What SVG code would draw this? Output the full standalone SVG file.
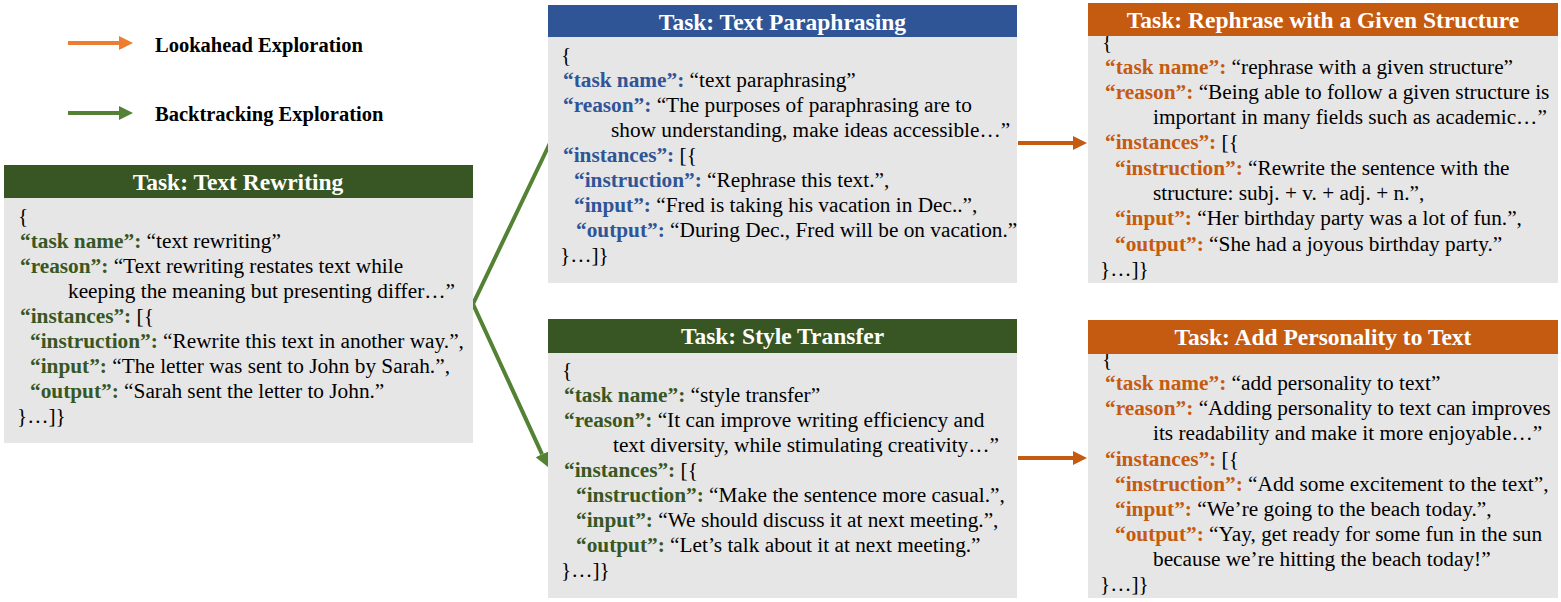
<svg xmlns="http://www.w3.org/2000/svg" width="1561" height="602" viewBox="0 0 1561 602">
<style>
.bg{fill:#ffffff}
.body{fill:#e7e6e6}
.hg{fill:#375623}
.hb{fill:#2f5597}
.ho{fill:#c55a11}
.ht{font-family:"Liberation Serif",serif;font-weight:bold;font-size:23.5px;fill:#ffffff;text-anchor:middle}
.t{font-family:"Liberation Serif",serif;font-size:21.3px;fill:#000000}
.kg{font-weight:bold;fill:#385723}
.kb{font-weight:bold;fill:#2f5597}
.ko{font-weight:bold;fill:#c55a11}
.lg{font-family:"Liberation Serif",serif;font-weight:bold;font-size:20.5px;fill:#000000}
</style>
<defs>
<marker id="ahO" markerUnits="userSpaceOnUse" markerWidth="14" markerHeight="14" refX="0" refY="7" orient="auto"><path d="M0,0 L14,7 L0,14 z" fill="#c55a11"/></marker>
<marker id="ahL" markerUnits="userSpaceOnUse" markerWidth="14" markerHeight="14" refX="0" refY="7" orient="auto"><path d="M0,0 L14,7 L0,14 z" fill="#ed7d31"/></marker>
<marker id="ahG" markerUnits="userSpaceOnUse" markerWidth="14" markerHeight="14" refX="0" refY="7" orient="auto"><path d="M0,0 L14,7 L0,14 z" fill="#548235"/></marker>
</defs>
<rect class="bg" x="0" y="0" width="1561" height="602"/>

<g id="legend">
<line x1="68" y1="43" x2="119" y2="43" stroke="#ed7d31" stroke-width="4" marker-end="url(#ahL)"/>
<text class="lg" x="155" y="52">Lookahead Exploration</text>
<line x1="68" y1="113" x2="119" y2="113" stroke="#548235" stroke-width="4" marker-end="url(#ahG)"/>
<text class="lg" x="155" y="121">Backtracking Exploration</text>
</g>

<g id="connectors">
<polyline points="550,143 473,304 542.1,454.3" fill="none" stroke="#548235" stroke-width="4" stroke-linejoin="miter" marker-end="url(#ahG)"/>
<line x1="1018" y1="143" x2="1073" y2="143" stroke="#c55a11" stroke-width="4" marker-end="url(#ahO)"/>
<line x1="1018" y1="458" x2="1073" y2="458" stroke="#c55a11" stroke-width="4" marker-end="url(#ahO)"/>
</g>

<g id="node-text-rewriting">
<rect class="body" x="4" y="198" width="469" height="245"/>
<rect class="hg" x="4" y="165" width="469" height="33"/>
<text class="ht" x="238" y="190">Task: Text Rewriting</text>
<text class="t" x="18" y="223">{</text>
<text class="t" x="20" y="248"><tspan class="kg">“task name”:</tspan> “text rewriting”</text>
<text class="t" x="20" y="273"><tspan class="kg">“reason”:</tspan> “Text rewriting restates text while</text>
<text class="t" x="68" y="298">keeping the meaning but presenting differ…”</text>
<text class="t" x="20" y="323"><tspan class="kg">“instances”:</tspan> [{</text>
<text class="t" x="30" y="348"><tspan class="kg">“instruction”:</tspan> “Rewrite this text in another way.”,</text>
<text class="t" x="30" y="373"><tspan class="kg">“input”:</tspan> “The letter was sent to John by Sarah.”,</text>
<text class="t" x="30" y="398"><tspan class="kg">“output”:</tspan> “Sarah sent the letter to John.”</text>
<text class="t" x="17" y="423">}…]}</text>
</g>

<g id="node-text-paraphrasing">
<rect class="body" x="548" y="37" width="469" height="246"/>
<rect class="hb" x="548" y="5" width="469" height="32"/>
<text class="ht" x="782.5" y="30">Task: Text Paraphrasing</text>
<text class="t" x="561" y="62">{</text>
<text class="t" x="563" y="87"><tspan class="kb">“task name”:</tspan> “text paraphrasing”</text>
<text class="t" x="563" y="112"><tspan class="kb">“reason”:</tspan> “The purposes of paraphrasing are to</text>
<text class="t" x="611" y="137">show understanding, make ideas accessible…”</text>
<text class="t" x="563" y="162"><tspan class="kb">“instances”:</tspan> [{</text>
<text class="t" x="574" y="187"><tspan class="kb">“instruction”:</tspan> “Rephrase this text.”,</text>
<text class="t" x="574" y="212"><tspan class="kb">“input”:</tspan> “Fred is taking his vacation in Dec..”,</text>
<text class="t" x="576" y="237"><tspan class="kb">“output”:</tspan> “During Dec., Fred will be on vacation.”</text>
<text class="t" x="560" y="262">}…]}</text>
</g>

<g id="node-style-transfer">
<rect class="body" x="548" y="353" width="469" height="245"/>
<rect class="hg" x="548" y="319" width="469" height="34"/>
<text class="ht" x="782.5" y="344">Task: Style Transfer</text>
<text class="t" x="562" y="377">{</text>
<text class="t" x="564" y="402"><tspan class="kg">“task name”:</tspan> “style transfer”</text>
<text class="t" x="564" y="427"><tspan class="kg">“reason”:</tspan> “It can improve writing efficiency and</text>
<text class="t" x="613" y="452">text diversity, while stimulating creativity…”</text>
<text class="t" x="564" y="477"><tspan class="kg">“instances”:</tspan> [{</text>
<text class="t" x="576" y="502"><tspan class="kg">“instruction”:</tspan> “Make the sentence more casual.”,</text>
<text class="t" x="576" y="527"><tspan class="kg">“input”:</tspan> “We should discuss it at next meeting.”,</text>
<text class="t" x="576" y="552"><tspan class="kg">“output”:</tspan> “Let’s talk about it at next meeting.”</text>
<text class="t" x="561" y="577">}…]}</text>
</g>

<g id="node-rephrase-structure">
<rect class="body" x="1088" y="36" width="470" height="247"/>
<text class="t" x="1102" y="49">{</text>
<rect class="ho" x="1088" y="3" width="470" height="33"/>
<text class="ht" x="1323" y="28">Task: Rephrase with a Given Structure</text>
<text class="t" x="1105" y="73.5"><tspan class="ko">“task name”:</tspan> “rephrase with a given structure”</text>
<text class="t" x="1105" y="98.8"><tspan class="ko">“reason”:</tspan> “Being able to follow a given structure  is</text>
<text class="t" x="1153" y="124">important in many fields such as academic…”</text>
<text class="t" x="1105" y="149.4"><tspan class="ko">“instances”:</tspan> [{</text>
<text class="t" x="1115" y="174.7"><tspan class="ko">“instruction”:</tspan> “Rewrite the sentence with the</text>
<text class="t" x="1153" y="200">structure: subj. + v. + adj. + n.”,</text>
<text class="t" x="1115" y="225.3"><tspan class="ko">“input”:</tspan> “Her birthday party was a lot of fun.”,</text>
<text class="t" x="1115" y="250.6"><tspan class="ko">“output”:</tspan> “She had a joyous birthday party.”</text>
<text class="t" x="1100" y="276">}…]}</text>
</g>

<g id="node-add-personality">
<rect class="body" x="1088" y="354" width="470" height="244"/>
<text class="t" x="1102" y="366">{</text>
<rect class="ho" x="1088" y="320" width="470" height="34"/>
<text class="ht" x="1323" y="345">Task: Add Personality to Text</text>
<text class="t" x="1105" y="390"><tspan class="ko">“task name”:</tspan> “add personality to text”</text>
<text class="t" x="1105" y="415"><tspan class="ko">“reason”:</tspan> “Adding personality to text can improves</text>
<text class="t" x="1153" y="440">its readability and make it more enjoyable…”</text>
<text class="t" x="1105" y="466"><tspan class="ko">“instances”:</tspan> [{</text>
<text class="t" x="1115" y="491"><tspan class="ko">“instruction”:</tspan> “Add some excitement to the text”,</text>
<text class="t" x="1115" y="516"><tspan class="ko">“input”:</tspan> “We’re going to the beach today.”,</text>
<text class="t" x="1115" y="541"><tspan class="ko">“output”:</tspan> “Yay, get ready for some fun in the sun</text>
<text class="t" x="1153" y="566">because we’re hitting the beach today!”</text>
<text class="t" x="1100" y="591">}…]}</text>
</g>
</svg>
